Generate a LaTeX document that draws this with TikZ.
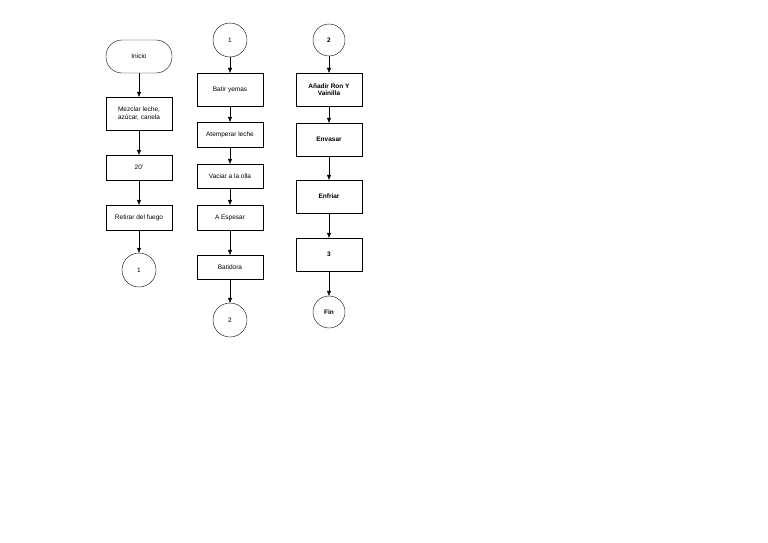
\documentclass[tikz,border=0pt]{standalone}
\usepackage{fontspec}
\setmainfont{Liberation Sans}
\usetikzlibrary{arrows.meta}
\begin{document}
\begin{tikzpicture}[x=1pt,y=-1pt,
  box/.style={draw,thin,minimum width=66pt,align=center,font=\fontsize{6.5}{7.5}\selectfont,inner sep=1pt},
  bbox/.style={box,font=\fontsize{6.5}{7.5}\selectfont\bfseries},
  term/.style={box,rounded corners=16pt},
  conn/.style={draw,thin,circle,minimum size=34pt,inner sep=0pt,font=\fontsize{6.5}{7.5}\selectfont},
  bconn/.style={conn,minimum size=32pt,font=\fontsize{6.5}{7.5}\selectfont\bfseries},
  arr/.style={-{Triangle[length=5pt,width=4pt]},thin}]
\useasboundingbox (0,0) rectangle (768,543);
\node[term,minimum height=33pt] (a1) at (139,56.5) {Inicio};
\node[box,minimum height=33pt] (a2) at (139,113.5) {Mezclar leche,\\azúcar, canela};
\node[box,minimum height=25pt] (a3) at (139,167.5) {20'};
\node[box,minimum height=25pt] (a4) at (139,217.5) {Retirar del fuego};
\node[conn] (a5) at (139,270) {1};
\draw[arr] (a1)--(a2); \draw[arr] (a2)--(a3); \draw[arr] (a3)--(a4); \draw[arr] (a4)--(a5);
\node[conn] (b0) at (230,40) {1};
\node[box,minimum height=33pt] (b1) at (230,89.5) {Batir yemas};
\node[box,minimum height=25pt] (b2) at (230,134.5) {Atemperar leche};
\node[box,minimum height=24pt] (b3) at (230,176) {Vaciar a la olla};
\node[box,minimum height=25pt] (b4) at (230,217.5) {A Espesar};
\node[box,minimum height=24pt] (b5) at (230,267) {Batidora};
\node[conn] (b6) at (230,320) {2};
\draw[arr] (b0)--(b1); \draw[arr] (b1)--(b2); \draw[arr] (b2)--(b3); \draw[arr] (b3)--(b4); \draw[arr] (b4)--(b5); \draw[arr] (b5)--(b6);
\node[bconn] (c0) at (329,40) {2};
\node[bbox,minimum height=33pt] (c1) at (329,89.5) {Añadir Ron Y\\Vainilla};
\node[bbox,minimum height=33pt] (c2) at (329,139.5) {Envasar};
\node[bbox,minimum height=33pt] (c3) at (329,196.5) {Enfriar};
\node[bbox,minimum height=33pt] (c4) at (329,254.5) {3};
\node[bconn] (c5) at (329,312) {Fin};
\draw[arr] (c0)--(c1); \draw[arr] (c1)--(c2); \draw[arr] (c2)--(c3); \draw[arr] (c3)--(c4); \draw[arr] (c4)--(c5);
\end{tikzpicture}
\end{document}
